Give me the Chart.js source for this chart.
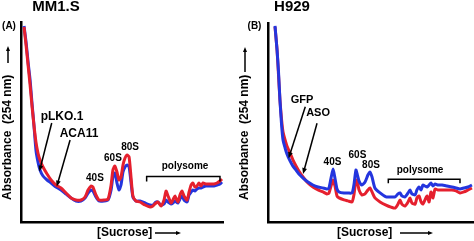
<!DOCTYPE html>
<html>
<head>
<meta charset="utf-8">
<script src="https://cdn.jsdelivr.net/npm/chart.js@4.4.1/dist/chart.umd.min.js"></script>
<style>
  html, body { margin: 0; padding: 0; background: #fff; }
  .panel { position: absolute; top: 0; }
</style>
</head>
<body>
<canvas id="chartA" class="panel" style="left:0" width="237" height="241"></canvas>
<canvas id="chartB" class="panel" style="left:237px" width="237" height="241"></canvas>
<script>
// gradient position (% of tube) and absorbance (% of full scale)

// (A) MM1.S
const fractionA = [1.5, 2.5, 3.5, 4.5, 5.4, 6.4, 7.4, 8.4, 9.4,
  10.9, 12.9, 14.9, 17.3, 19.8, 22.3, 24.8, 27.2, 29.7,
  31.7, 33.2, 34.7, 35.6, 37.1, 38.6, 41.1, 43.1,
  44.6, 45.5, 46.5, 47.5, 48.5, 49.5, 50.5, 51.5, 52.5, 53.5,
  54.5, 55.4, 56.9, 58.9, 61.4, 63.9, 65.3, 66.8, 67.8, 69.3,
  70.8, 71.8, 72.8, 74.3, 75.2, 76.2, 77.7, 78.7, 79.7, 80.7,
  82.2, 83.2, 84.2, 85.1, 86.1, 87.1, 88.1, 89.1, 90.1, 91.6,
  93.6, 95.5, 97.0, 98.5, 99.5];
const aca11A = [97.5, 88.5, 78.5, 68.5, 58.5, 48.5, 40, 34.5, 31,
  27.5, 24, 21, 18.5, 17, 14.5, 12, 11, 11,
  12.5, 16, 18, 17.5, 13.5, 11, 11, 11.5,
  18.5, 26, 28, 25, 21, 22.5, 28.5, 32, 33.5, 32.5,
  22, 13, 10.5, 10, 8.5, 7.5, 8, 9.5, 10, 8,
  11, 15.5, 13, 9.5, 11, 13, 10, 13.5, 15.5, 13,
  11, 15, 18.5, 19.5, 17.5, 18, 19.5, 18, 19.5, 19,
  19, 19, 19.5, 20.5, 21.5];
const pLKOA = [98, 90, 80, 71, 60, 48.5, 36, 30, 26,
  23, 21, 19.5, 17.5, 16, 14, 12, 10.5, 10.5,
  12, 14.5, 16, 15.5, 12.5, 10.5, 10.5, 11,
  16, 22.5, 24.5, 19.5, 16, 18.5, 25, 27.5, 28.5, 27.5,
  19.5, 12.5, 10.5, 10.5, 9.5, 8.5, 8.5, 10, 10, 8.5,
  9, 11, 10, 9, 9.5, 10.5, 9.5, 11.5, 13, 11,
  10, 13.5, 15, 16, 15.5, 16.5, 17, 17, 17.5, 18,
  18, 18, 18.5, 19, 20];

// (B) H929
const fractionB = [3.4, 4.4, 5.1, 5.8, 6.6, 7.3, 8.3, 9.2, 10.7, 12.1,
  13.6, 15.0, 17.0, 19.4, 21.8, 24.3, 26.7, 28.6, 29.6, 30.6,
  31.6, 32.5, 33.5, 34.5, 36.9, 38.8, 40.8, 41.7, 42.7, 43.4,
  44.2, 45.6, 47.1, 48.5, 49.5, 50.5, 51.9, 54.4, 57.3, 59.7,
  61.7, 63.1, 64.1, 65.0, 66.5, 68.0, 68.9, 69.9, 71.4, 72.3,
  73.3, 74.3, 75.2, 76.2, 77.2, 78.2, 79.1, 80.1, 81.1, 82.5,
  84.5, 86.9, 89.3, 91.3, 93.2, 95.1, 97.1, 99.0];
const asoB = [98.0, 86.4, 73.9, 61.3, 51.3, 45.2, 41.2, 38.2, 34.7, 31.2,
  28.1, 25.6, 22.6, 19.6, 17.6, 16.1, 15.1, 14.1, 14.6, 18.1,
  21.1, 18.1, 13.1, 12.1, 11.1, 10.6, 10.1, 13.6, 21.1, 20.1,
  16.1, 13.6, 14.1, 16.1, 17.1, 15.1, 12.1, 10.1, 8.5, 7.5,
  7.0, 9.0, 11.1, 9.0, 8.0, 10.1, 12.1, 9.5, 9.0, 12.1,
  13.1, 10.1, 9.0, 11.1, 13.1, 10.1, 15.1, 12.1, 16.6, 16.1,
  16.1, 16.1, 16.1, 15.6, 14.6, 15.1, 16.1, 17.1];
const gfpB = [98.5, 86.4, 75.4, 61.3, 48.7, 41.2, 37.2, 34.2, 30.7, 28.1,
  26.1, 24.1, 22.1, 20.1, 18.6, 17.6, 17.1, 16.6, 17.1, 22.1,
  26.6, 22.1, 16.6, 15.1, 14.6, 14.6, 14.6, 18.6, 26.1, 23.6,
  20.6, 18.6, 20.1, 23.6, 25.1, 22.6, 17.1, 14.6, 12.6, 12.6,
  12.6, 14.1, 14.6, 13.1, 12.6, 14.6, 16.1, 14.1, 13.6, 16.1,
  17.6, 16.1, 18.6, 18.1, 17.6, 18.6, 19.6, 18.1, 19.1, 18.6,
  18.6, 18.1, 17.6, 17.1, 16.6, 17.1, 17.6, 18.6];

const RED = '#e5202e';
const BLUE = '#2435de';
const FONT = '"Liberation Sans", Arial, sans-serif';

function drawArrow(ctx, x1, y1, x2, y2, head) {
    const a = Math.atan2(y2 - y1, x2 - x1);
    const c = Math.cos(a), s = Math.sin(a);
    ctx.beginPath();
    ctx.moveTo(x1, y1);
    ctx.lineTo(x2 - c * head * 0.7, y2 - s * head * 0.7);
    ctx.stroke();
    ctx.beginPath();
    ctx.moveTo(x2, y2);
    ctx.lineTo(x2 - head * c + head * 0.4 * s, y2 - head * s - head * 0.4 * c);
    ctx.lineTo(x2 - head * c - head * 0.4 * s, y2 - head * s + head * 0.4 * c);
    ctx.closePath();
    ctx.fill();
}

// titles, axis captions, peak labels and pointer arrows
const notesPlugin = {
    id: 'notes',
    afterDraw(chart, args, o) {
        const ctx = chart.ctx;
        const px = v => chart.scales.x.getPixelForValue(v);
        const py = v => chart.scales.y.getPixelForValue(v);
        ctx.save();
        ctx.fillStyle = '#000';
        ctx.strokeStyle = '#000';
        ctx.textAlign = 'center';
        ctx.textBaseline = 'middle';

        ctx.font = 'bold 15px ' + FONT;
        ctx.fillText(o.title, o.titleX, 7);
        ctx.font = 'bold 10px ' + FONT;
        ctx.fillText(o.letter, o.letterX, 26.5);

        // y caption, reading upwards
        ctx.save();
        ctx.translate(8, 200);
        ctx.rotate(-Math.PI / 2);
        ctx.textAlign = 'left';
        ctx.font = 'bold 12px ' + FONT;
        ctx.fillText('Absorbance  (254 nm)', 0, 0);
        ctx.restore();
        ctx.lineWidth = 1.5;
        drawArrow(ctx, 8, o.yArrow[0], 8, o.yArrow[1], 5);

        // x caption
        ctx.textAlign = 'left';
        ctx.font = 'bold 12px ' + FONT;
        ctx.fillText('[Sucrose]', o.xCapX, 233);
        drawArrow(ctx, o.xArrow[0], 233, o.xArrow[1], 233, 5);

        // sample labels with pointers
        ctx.textAlign = 'center';
        ctx.font = 'bold ' + o.sampleSize + 'px ' + FONT;
        o.samples.forEach(s => {
            ctx.fillText(s.text, px(s.x), py(s.y));
            ctx.lineWidth = 1.5;
            drawArrow(ctx, px(s.from[0]), py(s.from[1]), px(s.to[0]), py(s.to[1]), 6);
        });

        ctx.font = 'bold 10px ' + FONT;
        o.peaks.forEach(p => ctx.fillText(p.text, px(p.x), py(p.y)));

        // polysome bracket
        const b = o.bracket;
        ctx.fillText('polysome', px(b.textX), py(b.textY));
        ctx.lineWidth = 1.5;
        ctx.beginPath();
        ctx.moveTo(px(b.x0), py(b.tick));
        ctx.lineTo(px(b.x0), py(b.y));
        ctx.lineTo(px(b.x1), py(b.y));
        ctx.lineTo(px(b.x1), py(b.tick));
        ctx.stroke();
        ctx.restore();
    }
};

function series(xs, ys) {
    return xs.map((x, i) => ({ x: x, y: ys[i] }));
}

function axis() {
    return {
        type: 'linear', min: 0, max: 100,
        grid: { display: false, drawTicks: false },
        ticks: { display: false },
        border: { display: true, color: '#000', width: 2.5 }
    };
}

function makePanel(id, datasets, padding, notes) {
    return new Chart(document.getElementById(id), {
        type: 'line',
        data: { datasets: datasets },
        options: {
            responsive: false,
            animation: false,
            devicePixelRatio: 1,
            layout: { padding: padding },
            elements: { point: { radius: 0 }, line: { tension: 0.2, borderWidth: 3 } },
            scales: { x: axis(), y: axis() },
            plugins: { legend: { display: false }, tooltip: { enabled: false }, notes: notes }
        },
        plugins: [notesPlugin]
    });
}

makePanel('chartA', [
    { label: 'ACA11', data: series(fractionA, aca11A), borderColor: RED },
    { label: 'pLKO.1', data: series(fractionA, pLKOA), borderColor: BLUE }
], { left: 21, right: 14, top: 22, bottom: 19 }, {
    title: 'MM1.S', titleX: 56, letter: '(A)', letterX: 9,
    yArrow: [63, 46], xCapX: 97, xArrow: [155, 181], sampleSize: 12,
    samples: [
        { text: 'pLKO.1', x: 20.3, y: 52.7, from: [15.2, 49.5], to: [9.1, 25.2] },
        { text: 'ACA11', x: 28.7, y: 44, from: [24.3, 41], to: [17.7, 17.7] }
    ],
    peaks: [
        { text: '40S', x: 36.6, y: 22 },
        { text: '60S', x: 45.5, y: 32 },
        { text: '80S', x: 54, y: 37.3 }
    ],
    bracket: { x0: 62.2, x1: 98.5, y: 22.7, tick: 20.2, textX: 81.2, textY: 28 }
});

makePanel('chartB', [
    { label: 'GFP', data: series(fractionB, gfpB), borderColor: BLUE },
    { label: 'ASO', data: series(fractionB, asoB), borderColor: RED }
], { left: 31, right: 0, top: 23, bottom: 19 }, {
    title: 'H929', titleX: 55, letter: '(B)', letterX: 17.5,
    yArrow: [72, 47], xCapX: 100, xArrow: [163, 196], sampleSize: 11,
    samples: [
        { text: 'GFP', x: 16.5, y: 61.3, from: [18.1, 57.9], to: [10, 32] },
        { text: 'ASO', x: 24.3, y: 54.8, from: [23.8, 49.6], to: [17, 24.1] }
    ],
    peaks: [
        { text: '40S', x: 31.3, y: 29.9 },
        { text: '60S', x: 43.4, y: 33.4 },
        { text: '80S', x: 50, y: 28.4 }
    ],
    bracket: { x0: 58.4, x1: 93.2, y: 21.5, tick: 19.5, textX: 73.8, textY: 26.1 }
});
</script>
</body>
</html>
